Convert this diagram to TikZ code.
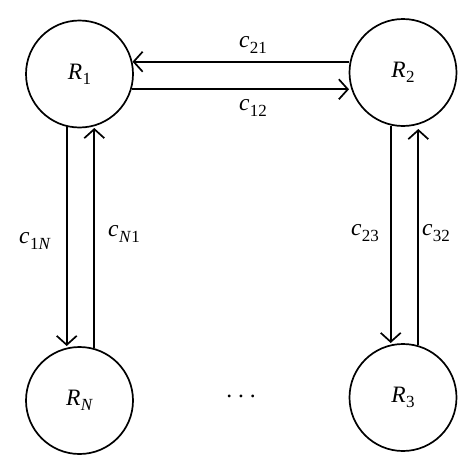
\documentclass[tikz,border=0pt]{standalone}
\usepackage{fontspec}
\setmainfont{Liberation Serif}
\usetikzlibrary{arrows.meta}
\newcommand{\mysym}[2]{\textit{#1}\kern0.02em\raisebox{-0.22em}{\fontsize{17}{18}\selectfont #2}}
\begin{document}
\begin{tikzpicture}[x=1pt,y=-1pt,
  state/.style={circle,draw,line width=1.7pt,minimum size=107pt,inner sep=0pt,font=\fontsize{23.5}{27}\selectfont},
  flow/.style={line width=1.7pt,-{Straight Barb[length=9pt,width=20pt,line width=1.7pt]}},
  lab/.style={inner sep=0pt,font=\fontsize{23.5}{27}\selectfont}]
\useasboundingbox (0,0) rectangle (474,474);
\node[state] (R1) at (79.5,74) {\mysym{R}{1}};
\node[state] (R2) at (403,72.5) {\mysym{R}{2}};
\node[state] (RN) at (79.5,400.5) {\mysym{R}{\textit{N}}};
\node[state] (R3) at (403,397.5) {\mysym{R}{3}};
\node[lab] (dots) at (241,396) {.\kern0.25em.\kern0.25em.};
% horizontal arrows
\coordinate (a21s) at (349,61.7);
\coordinate (a21e) at (132.5,61.7);
\draw[flow] (a21s) -- (a21e);
\coordinate (a12s) at (132,89.3);
\coordinate (a12e) at (349,89.3);
\draw[flow] (a12s) -- (a12e);
% vertical left
\coordinate (a1Ns) at (66.7,126);
\coordinate (a1Ne) at (66.7,346);
\draw[flow] (a1Ns) -- (a1Ne);
\coordinate (aN1s) at (94.3,348);
\coordinate (aN1e) at (94.3,128);
\draw[flow] (aN1s) -- (aN1e);
% vertical right
\coordinate (a23s) at (390.7,125.5);
\coordinate (a23e) at (390.7,343);
\draw[flow] (a23s) -- (a23e);
\coordinate (a32s) at (418.3,345);
\coordinate (a32e) at (418.3,129);
\draw[flow] (a32s) -- (a32e);
% labels
\node[lab] (l21) at (253,45) {\mysym{c}{21}};
\node[lab] (l12) at (253,108) {\mysym{c}{12}};
\node[lab] (l1N) at (35,241) {\mysym{c}{1\textit{N}}};
\node[lab] (lN1) at (124,234) {\mysym{c}{\textit{N}1}};
\node[lab] (l23) at (365,233) {\mysym{c}{23}};
\node[lab] (l32) at (436,233) {\mysym{c}{32}};
\end{tikzpicture}
\end{document}
